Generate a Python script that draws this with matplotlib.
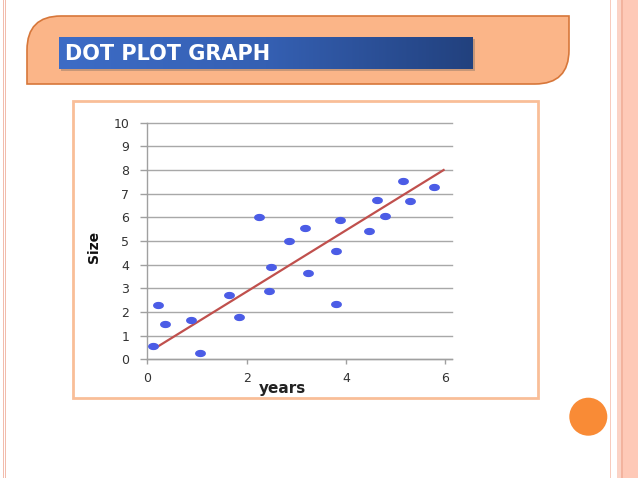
import numpy as np
import matplotlib
matplotlib.use("Agg")
import matplotlib.pyplot as plt
from matplotlib.path import Path
from matplotlib.patches import PathPatch, Rectangle, Circle
from matplotlib import font_manager

# ---------------------------------------------------------------------------
# Datos
# ---------------------------------------------------------------------------
years = [0.11, 0.22, 0.36, 0.89, 1.07, 1.64, 1.85, 2.25, 2.45, 2.49, 2.86,
         3.17, 3.23, 3.81, 3.81, 3.88, 4.46, 4.62, 4.79, 5.16, 5.30, 5.77]
size = [0.56, 2.31, 1.48, 1.65, 0.27, 2.72, 1.80, 6.01, 2.90, 3.90, 4.99,
        5.56, 3.65, 4.56, 2.35, 5.90, 5.44, 6.73, 6.06, 7.52, 6.69, 7.27]

fit_x = [0.15, 5.97]
fit_y = [0.46, 8.00]

x_ticks = [0, 2, 4, 6]
y_ticks = list(range(0, 11))

title = "DOT PLOT GRAPH"

# ---------------------------------------------------------------------------
# Figura y fondo de la diapositiva (coordenadas en píxeles)
# ---------------------------------------------------------------------------
W, H = 638, 478
fig = plt.figure(figsize=(W / 100, H / 100), dpi=100)
fig.patch.set_facecolor("white")

bg = fig.add_axes([0, 0, 1, 1])
bg.set_axis_off()

# líneas verticales rosadas en los bordes
for xl in [3.2, 5.3, 7.0]:
    bg.add_patch(Rectangle((xl - 0.45, 0), 0.9, H, color="#F2BCAD", lw=0))
bg.add_patch(Rectangle((609.5, 0), 1.8, H, color="#F8CBBD", lw=0))
bg.add_patch(Rectangle((616.5, 0), 4.5, H, color="#FBD3C6", lw=0))
bg.add_patch(Rectangle((621, 0), 2.2, H, color="#F3B39E", lw=0))
bg.add_patch(Rectangle((623.2, 0), W - 623.2, H, color="#FEC9B7", lw=0))

# caja naranja del título (esquinas redondeadas arriba-izq y abajo-der)
L, R, T, B, r = 27, 569, 16, 84, 34
verts = [(L, B), (L, T + r), (L, T), (L + r, T), (R, T), (R, B - r),
         (R, B), (R - r, B), (L, B)]
codes = [Path.MOVETO, Path.LINETO, Path.CURVE3, Path.CURVE3, Path.LINETO,
         Path.LINETO, Path.CURVE3, Path.CURVE3, Path.CLOSEPOLY]
bg.add_patch(PathPatch(Path(verts, codes), facecolor="#FBB588",
                       edgecolor="#D7773A", lw=1.2))

# barra azul con degradado
bg.add_patch(Rectangle((60.5, 38.5), 414, 32.5, color="#7a6a60", alpha=0.4, lw=0))
grad = np.linspace(0, 1, 256)[None, :]
cmap = matplotlib.colors.LinearSegmentedColormap.from_list(
    "azul", ["#3D6CC6", "#3560B3", "#22417E"])
bg.imshow(grad, cmap=cmap, extent=(59, 473, 69, 37), aspect="auto",
          interpolation="bicubic", zorder=3)
bg.text(65, 53.5, title, color="white", fontsize=15, fontweight="heavy",
        ha="left", va="center", zorder=4)

# marco del gráfico
bg.add_patch(Rectangle((72.5, 100.5), 465, 297.5, facecolor="white",
                       edgecolor="#F9BE98", lw=2))

# círculo naranja
bg.add_patch(Circle((588.3, 416.7), 19, color="#F98B36", lw=0))

# etiquetas de ejes
available = {f.name for f in font_manager.fontManager.ttflist}
narrow = "Liberation Sans Narrow" if "Liberation Sans Narrow" in available else "DejaVu Sans"
bg.text(282, 388.5, "years", fontsize=11, fontweight="bold", color="#222222",
        ha="center", va="center")
bg.text(94, 247, "Size", fontsize=10, fontweight="bold", color="#111111",
        family=narrow, rotation=90, ha="center", va="center")

bg.set_xlim(0, W)
bg.set_ylim(H, 0)

# ---------------------------------------------------------------------------
# Diagrama de dispersión
# ---------------------------------------------------------------------------
x0, x1 = 147.3, 452.4
y0, y1 = 359.3, 122.7
ax = fig.add_axes([x0 / W, (H - y0) / H, (x1 - x0) / W, (y0 - y1) / H])
ax.patch.set_alpha(0)

theta = np.linspace(0, 2 * np.pi, 40)
ellipse = Path(np.column_stack([np.cos(theta), 0.62 * np.sin(theta)]))

ax.plot(fit_x, fit_y, color="#C0504D", lw=1.6, zorder=3)
ax.plot(years, size, linestyle="none", marker=ellipse, markersize=6.8,
        color="#4B5CE6", zorder=4)

ax.set_xlim(0, 6.147)
ax.set_ylim(0, 10)
ax.set_xticks(x_ticks)
ax.set_yticks(y_ticks)
ax.grid(axis="y", color="#A8A8A8", lw=1)
for gl in ax.get_ygridlines():
    gl.set_clip_on(False)
ax.set_axisbelow(True)

for s in ["top", "right"]:
    ax.spines[s].set_visible(False)
for s in ["left", "bottom"]:
    ax.spines[s].set_color("#A0A0A0")
    ax.spines[s].set_linewidth(1)

ax.tick_params(axis="y", direction="out", length=5, width=1, color="#A0A0A0",
               pad=8, labelsize=9, labelcolor="#333333")
ax.tick_params(axis="x", direction="out", length=3.5, width=1, color="#A0A0A0",
               pad=5.5, labelsize=9, labelcolor="#333333")

fig.savefig("out.png", dpi=100)
